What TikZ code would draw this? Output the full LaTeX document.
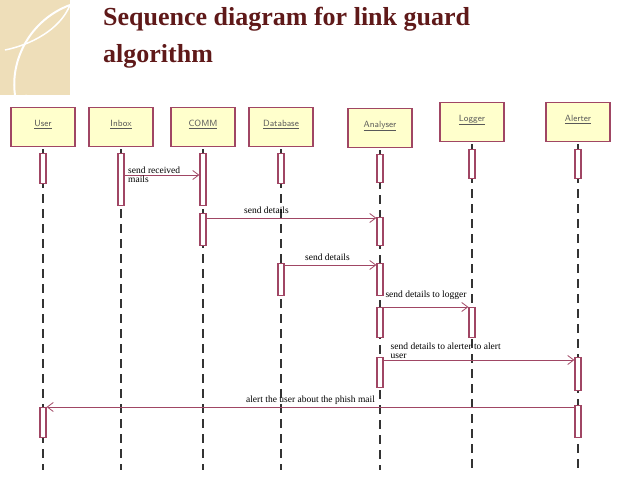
\documentclass[tikz,border=0pt]{standalone}
\usepackage{fontspec}
\setmainfont{Liberation Serif}
\usetikzlibrary{arrows.meta}
\definecolor{boxline}{RGB}{160,70,100}
\definecolor{boxfill}{RGB}{255,255,204}
\definecolor{titlered}{RGB}{95,25,25}
\definecolor{beige}{RGB}{238,222,185}
\tikzset{
  obj/.style={draw=boxline,fill=boxfill,line width=1.2pt,minimum width=64pt,minimum height=39pt,
    inner sep=0pt,anchor=north,text depth=0pt,font=\sffamily\fontsize{9}{10}\selectfont\color{black!65}},
  act/.style={draw=boxline,fill=white,line width=1.2pt,minimum width=6pt,inner sep=0pt,anchor=north},
  life/.style={dash pattern=on 9pt off 6pt,line width=1.3pt,black!80},
  msg/.style={draw=boxline,-{Straight Barb[length=6pt,width=9pt]},line width=0.8pt},
  lbl/.style={font=\fontsize{9.5}{9.5}\selectfont,inner sep=1pt}
}
\begin{document}
\begin{tikzpicture}[x=1pt,y=-1pt]
\useasboundingbox (0,0) rectangle (638,479);
% corner decoration
\fill[beige] (0,0) rectangle (70,95);
\draw[white,line width=2pt] (70,5) .. controls (30,20) and (10,60) .. (15,95);
\draw[white,line width=1.5pt] (5,50) .. controls (30,45) and (60,30) .. (70,5);
\draw[white,line width=4pt] (25,95) arc (180:0:30 and 22);
% title
\node[anchor=north west,align=left,text=titlered,font=\bfseries\fontsize{26}{37}\selectfont,inner sep=0pt]
  (title) at (103,7) {Sequence diagram for link guard\\algorithm};
% objects
\foreach \n/\t/\x/\y in {user/User/43/107,inbox/Inbox/121/107,comm/COMM/203/107,db/Database/281/107,
    an/Analyser/380/108,log/Logger/472/102,al/Alerter/578/102}{
  \node[obj] (\n) at (\x,\y) {\raisebox{8pt}{\underline{\t}}};
  \coordinate (\n-end) at (\x,470);
}
% lifelines
\foreach \n in {user,inbox,comm,db,an,log,al}
  \draw[life] (\n.south) ++(0,2) -- (\n-end);
% activations
\foreach \n/\nm/\x/\a/\b in {u1/user/43/153/183,i1/inbox/121/153/205,c1/comm/203/153/205,d1/db/281/153/183,
    a1/an/380/154/182,l1/log/472/149/178,e1/al/578/149/178,c2/comm/203/213/245,a2/an/380/217/245,
    d2/db/281/263/295,a3/an/380/263/295,a4/an/380/307/337,l2/log/472/307/337,a5/an/380/357/387,
    e2/al/578/357/390,u2/user/43/407/437,e3/al/578/405/437}
  \node[act,minimum height=\b-\a] (\n) at (\x,\a) {};
% messages
\draw[msg] (i1.east|-0,175) -- (c1.west|-0,175) node[lbl,pos=0.03,anchor=south west,align=left,yshift=-9pt]
  {send received\\mails};
\draw[msg] (c2.east|-0,218) -- (a2.west|-0,218) node[lbl,midway,above,xshift=-25pt,yshift=3pt] {send details};
\draw[msg] (d2.east|-0,265) -- (a3.west|-0,265) node[lbl,midway,above,xshift=-3pt,yshift=3pt] {send details};
\draw[msg] (a4.east|-0,307) -- (l2.west|-0,307) node[lbl,midway,above,yshift=6pt] {send details to logger};
\draw[msg] (a5.east|-0,360) -- (e2.west|-0,360) node[lbl,pos=0.03,anchor=south west,align=left]
  {send details to alerter to alert\\user};
\draw[msg] (e3.west|-0,407) -- (u2.east|-0,407) node[lbl,midway,above,yshift=1pt] {alert the user about the phish mail};
\end{tikzpicture}
\end{document}
